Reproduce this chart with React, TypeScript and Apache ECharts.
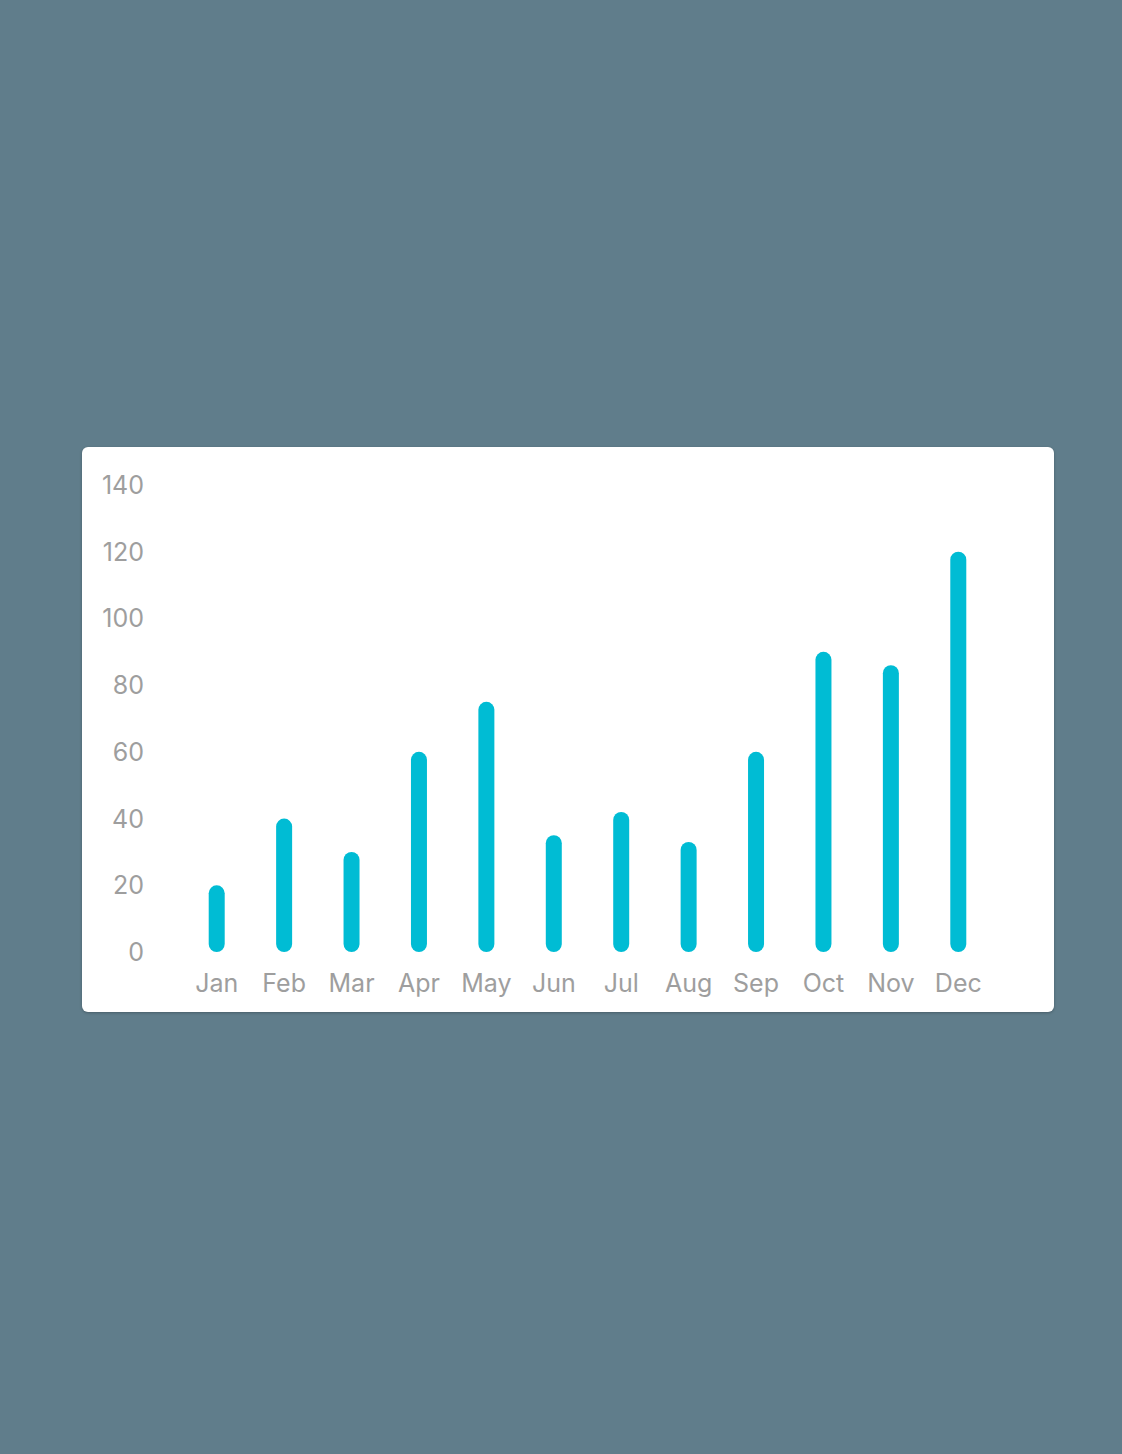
import React, { useEffect, useRef } from "react";
import * as echarts from "echarts";

const months = ["Jan", "Feb", "Mar", "Apr", "May", "Jun", "Jul", "Aug", "Sep", "Oct", "Nov", "Dec"];
const sales = [20, 40, 30, 60, 75, 35, 42, 33, 60, 90, 86, 120];
const yTicks = { min: 0, max: 140, interval: 20 };

const BarCard: React.FC = () => {
  const chartRef = useRef<HTMLDivElement>(null);

  useEffect(() => {
    if (!chartRef.current) return;
    const chart = echarts.init(chartRef.current, undefined, { renderer: "svg" });

    const labelStyle = {
      color: "#9e9e9e",
      fontSize: 25,
      fontFamily: "Inter, 'Liberation Sans', sans-serif",
    };

    const option = {
      animation: false,
      grid: { left: 101, right: 62, top: 38, bottom: 60, containLabel: false },
      xAxis: {
        type: "category",
        data: months,
        axisLine: { show: false },
        axisTick: { show: false },
        axisLabel: { ...labelStyle, margin: 18 },
      },
      yAxis: {
        type: "value",
        min: yTicks.min,
        max: yTicks.max,
        interval: yTicks.interval,
        axisLine: { show: false },
        axisTick: { show: false },
        splitLine: { show: false },
        axisLabel: { ...labelStyle, margin: 39 },
      },
      series: [
        {
          type: "bar",
          data: sales,
          barWidth: 16,
          itemStyle: { color: "#00bcd4", borderRadius: 8 },
        },
      ],
    };

    chart.setOption(option);
    return () => {
      chart.dispose();
    };
  }, []);

  return <div ref={chartRef} style={{ width: 972, height: 565 }} />;
};

export default function App() {
  return (
    <div
      style={{
        position: "absolute",
        left: 0,
        top: 0,
        width: 1122,
        height: 1454,
        background: "#607d8b",
      }}
    >
      <div
        style={{
          position: "absolute",
          left: 82,
          top: 447,
          width: 972,
          height: 565,
          background: "#ffffff",
          borderRadius: 6,
          boxShadow: "0 1px 3px rgba(0,0,0,0.25)",
          overflow: "hidden",
        }}
      >
        <BarCard />
      </div>
    </div>
  );
}
